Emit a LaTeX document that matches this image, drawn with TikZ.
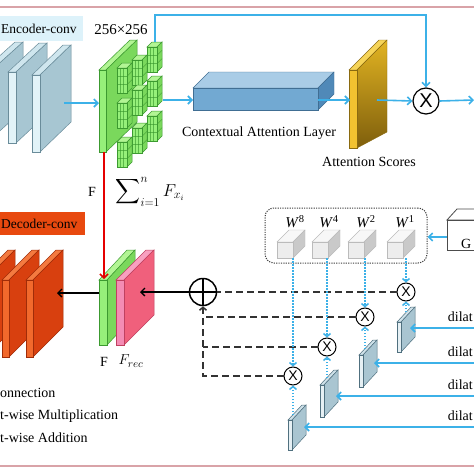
\documentclass[tikz,border=0pt]{standalone}
\usepackage{exscale}
\usepackage{fontspec}
\setmainfont{Liberation Serif}
\newfontfamily\sansf{Liberation Sans}
\usetikzlibrary{arrows.meta,calc}
\definecolor{encfront}{HTML}{E2F3F8}
\definecolor{encside}{HTML}{A7C6D2}
\definecolor{enctop}{HTML}{CFE6EE}
\definecolor{encline}{HTML}{6A8C9A}
\definecolor{encbg}{HTML}{DDF2FA}
\definecolor{gfront}{HTML}{96F07A}
\definecolor{gside}{HTML}{7AD85C}
\definecolor{gtop}{HTML}{B2F594}
\definecolor{gdark}{HTML}{3C9A30}
\definecolor{goldfront}{HTML}{F2C230}
\definecolor{goldtop}{HTML}{F6D458}
\definecolor{goldA}{HTML}{E2B422}
\definecolor{goldB}{HTML}{7E5E0C}
\definecolor{goldline}{HTML}{8A6A10}
\definecolor{ctxfront}{HTML}{72A9D2}
\definecolor{ctxtop}{HTML}{A9CCE6}
\definecolor{ctxside}{HTML}{5089B8}
\definecolor{decfront}{HTML}{F2692C}
\definecolor{decside}{HTML}{D8400F}
\definecolor{dectop}{HTML}{F47A40}
\definecolor{decline}{HTML}{A02C08}
\definecolor{decbg}{HTML}{E8490F}
\definecolor{pfront}{HTML}{F48CB4}
\definecolor{pside}{HTML}{F0607C}
\definecolor{ptop}{HTML}{F8A0C0}
\definecolor{pdark}{HTML}{C04060}
\definecolor{dilfront}{HTML}{E6F0F4}
\definecolor{dilside}{HTML}{A9C5D1}
\definecolor{diltop}{HTML}{D0E2EA}
\definecolor{dilline}{HTML}{50707F}
\definecolor{wfront}{HTML}{EDEDED}
\definecolor{wside}{HTML}{C9C9C9}
\definecolor{wtop}{HTML}{F7F7F7}
\definecolor{wline}{HTML}{BBBBBB}
\definecolor{skyb}{HTML}{3CB1E8}
\definecolor{rulepink}{HTML}{D9A3A8}

% #1 x, #2 y (front top-left), #3 front width, #4 height, #5 depth x, #6 depth y, #7 front, #8 side, #9 top
\newcommand{\slab}[9]{%
  \filldraw[fill=#9,slabline] (#1,#2) -- ++(#5,-#6) -- ++(#3,0) -- ++(-#5,#6) -- cycle;
  \filldraw[fill=#8,slabline] (#1+#3,#2) -- ++(#5,-#6) -- ++(0,#4) -- ++(-#5,#6) -- cycle;
  \filldraw[fill=#7,slabline] (#1,#2) rectangle ++(#3,#4);
}
\newcommand{\gcube}[2]{%
  \slab{#1}{#2}{10}{25}{5}{5}{gfront}{gside}{gtop}
  \draw[draw=gdark,line width=.4pt] (#1+3.33,#2) -- ++(0,25) (#1+6.67,#2) -- ++(0,25)
     (#1,#2+8.33) -- ++(10,0) (#1,#2+16.67) -- ++(10,0)
     (#1+10,#2+8.33) -- ++(5,-5) (#1+10,#2+16.67) -- ++(5,-5);
}

\begin{document}
\begin{tikzpicture}[x=1pt,y=-1pt,
  slabline/.style={draw=encline,line width=.5pt},
  barrow/.style={draw=skyb,line width=1.6pt,-{Straight Barb[length=4pt,width=8pt]}},
  bdot/.style={draw=skyb,line width=1.5pt,dash pattern=on 1.5pt off 1.5pt,-{Straight Barb[length=3pt,width=7pt]}},
  karrow/.style={draw=black,line width=1.3pt,-{Straight Barb[length=4pt,width=8pt]}},
  dline/.style={draw=black!80,line width=1.5pt,dash pattern=on 7pt off 4pt},
  lbl/.style={font=\fontsize{14}{16}\selectfont,inner sep=0pt},
  xcirc/.style={circle,draw,line width=1pt,fill=white,minimum size=18pt,inner sep=0pt,font=\sansf\fontsize{14}{14}\selectfont},
  rule/.style={draw=rulepink,line width=1.2pt},
]
\useasboundingbox (0,0) rectangle (474,474);
\fill[white] (0,0) rectangle (474,474);

% frame rules
\draw[rule] (0,7) -- (474,7);
\draw[rule] (0,466) -- (474,466);

% ---------- encoder ----------
\fill[encbg] (0,16) rectangle (83,41);
\node[lbl,anchor=west,font=\fontsize{13.5}{16}\selectfont] (enclab) at (1,28.5) {Encoder-conv};
\slab{-16}{70}{8}{68}{31}{28}{encfront}{encside}{enctop}
\slab{8}{72}{8}{71}{31}{29}{encfront}{encside}{enctop}
\slab{32}{75}{8}{77}{31}{30}{encfront}{encside}{enctop}
\coordinate (encout) at (64,103);

\node[lbl,font=\fontsize{15}{16}\selectfont] (size) at (121,30) {256×256};

% ---------- feature block with patches ----------
\begin{scope}[slabline/.style={draw=gdark,line width=.5pt}]
\slab{99}{70}{7}{82}{31}{30}{gfront}{gside}{gtop}
\gcube{147}{47}
\gcube{147}{81}
\gcube{147}{116}
\gcube{132}{60}
\gcube{132}{90}
\gcube{132}{128}
\gcube{117}{68}
\gcube{117}{103}
\gcube{117}{142}
\end{scope}
\coordinate (featin) at (99,103);
\coordinate (featout) at (163,100);
\coordinate (patchtop) at (155,42);
\coordinate (featbot) at (104,152);
\coordinate (topy) at (0,15);

% ---------- contextual attention layer ----------
\begin{scope}[slabline/.style={draw=ctxside!80!black,line width=.4pt}]
\filldraw[fill=ctxtop,slabline] (193,88) -- (209,72) -- (334,72) -- (318,88) -- cycle;
\filldraw[fill=ctxside,slabline] (318,88) -- (334,72) -- (334,94) -- (318,110) -- cycle;
\filldraw[fill=ctxfront,slabline] (193,88) rectangle (318,110);
\end{scope}
\coordinate (ctxin) at (193,100);
\coordinate (ctxout) at (318,100);
\node[lbl] (ctxlab) at (259,133) {Contextual Attention Layer};

% ---------- attention scores ----------
\filldraw[fill=goldtop,draw=goldline,line width=.4pt] (349,70) -- (379,40) -- (387,40) -- (357,70) -- cycle;
\shade[top color=goldA,bottom color=goldB] (357,70) -- (387,40) -- (387,132) -- (357,148) -- cycle;
\draw[draw=goldline,line width=.4pt] (357,70) -- (387,40) -- (387,132) -- (357,148) -- cycle;
\filldraw[fill=goldfront,draw=goldline,line width=.4pt] (349,70) rectangle (357,148);
\coordinate (attin) at (350,100);
\coordinate (attout) at (377,100);
\node[lbl] (attlab) at (369,162) {Attention Scores};

\node[circle,draw,line width=1.2pt,fill=white,minimum size=26pt,inner sep=0pt,font=\sansf\fontsize{20}{20}\selectfont] (mult) at (426,101) {X};
\coordinate (outR) at (474,100);

\draw[barrow] (encout) -- (featin);
\draw[barrow] (featout) -- (ctxin);
\draw[barrow] (ctxout) -- (attin);
\draw[barrow] (attout) -- (mult.west);
\draw[barrow] (mult.east) -- (outR);
\draw[barrow] (patchtop) -- (patchtop |- topy) -- (mult.north |- topy) -- (mult.north);

% ---------- labels F / sum ----------
\node[lbl] (flab1) at (92,192) {F};
\node[font=\fontsize{17}{19}\selectfont,inner sep=0pt] (sumlab) at (150,192) {$\displaystyle\sum\nolimits_{i=1}^{n}F_{x_i}$};

% ---------- decoder ----------
\fill[decbg] (0,212) rectangle (85,235);
\node[lbl,anchor=west,font=\fontsize{13.5}{16}\selectfont] (declab) at (1,223.5) {Decoder-conv};
\begin{scope}[slabline/.style={draw=decline,line width=.5pt}]
\slab{-22}{280}{7}{77}{30}{30}{decfront}{decside}{dectop}
\slab{2}{280}{7}{77}{30}{30}{decfront}{decside}{dectop}
\slab{26}{280}{7}{77}{30}{30}{decfront}{decside}{dectop}
\end{scope}
\coordinate (decin) at (57,293);

% ---------- F and F_rec ----------
\begin{scope}[slabline/.style={draw=gdark,line width=.5pt}]
\slab{99}{280}{8}{65}{28}{30}{gfront}{gside}{gtop}
\end{scope}
\begin{scope}[slabline/.style={draw=pdark,line width=.5pt}]
\slab{116}{280}{8}{65}{30}{30}{pfront}{pside}{ptop}
\end{scope}
\coordinate (ftop) at (104,279);
\coordinate (fout) at (99,293);
\coordinate (frecin) at (140,292);
\node[lbl] (flab2) at (104,362) {F};
\node[lbl,font=\fontsize{15}{16}\selectfont] (freclab) at (131,361) {$F_{rec}$};

\draw[draw=red!90!black,line width=1.5pt,-{Straight Barb[length=4pt,width=8pt]}] (featbot) -- (ftop);
\draw[karrow] (fout) -- (decin);

% ---------- addition ----------
\node[circle,draw,line width=1.5pt,fill=white,minimum size=27pt,inner sep=0pt] (oplus) at (203,292) {};
\draw[line width=1.5pt] (oplus.north) -- (oplus.south) (oplus.west) -- (oplus.east);
\draw[karrow] (oplus.west) -- (frecin);

% ---------- weights box ----------
\node[draw=black!75,line width=1pt,dash pattern=on 1.2pt off 1.2pt,rounded corners=9pt,minimum width=162pt,minimum height=55pt,inner sep=0pt] (wbox) at (346,235.5) {};
\begin{scope}[slabline/.style={draw=wline,line width=.4pt}]
\slab{277}{242}{16}{16}{12}{12}{wfront}{wside}{wtop}
\slab{312}{242}{16}{16}{12}{12}{wfront}{wside}{wtop}
\slab{348}{242}{16}{16}{12}{12}{wfront}{wside}{wtop}
\slab{387}{242}{16}{16}{12}{12}{wfront}{wside}{wtop}
\end{scope}
\node[font=\fontsize{15}{16}\selectfont,inner sep=0pt] (w8) at (295,222) {\textit{W}\textsuperscript{8}};
\node[font=\fontsize{15}{16}\selectfont,inner sep=0pt] (w4) at (329,222) {\textit{W}\textsuperscript{4}};
\node[font=\fontsize{15}{16}\selectfont,inner sep=0pt] (w2) at (366,222) {\textit{W}\textsuperscript{2}};
\node[font=\fontsize{15}{16}\selectfont,inner sep=0pt] (w1) at (405,222) {\textit{W}\textsuperscript{1}};
\coordinate (w8b) at (293,258);
\coordinate (w4b) at (327,258);
\coordinate (w2b) at (365,258);
\coordinate (w1b) at (406,258);

% G box
\begin{scope}[slabline/.style={draw=black!70,line width=.8pt}]
\slab{447}{220}{40}{30}{10}{11}{white}{white}{white}
\end{scope}
\node[lbl,anchor=base west] (glab) at (461,248) {G};
\coordinate (gout) at (447,237);
\draw[barrow] (gout) -- (wbox.east |- gout);

% ---------- dilated branches ----------
\begin{scope}[slabline/.style={draw=dilline,line width=.5pt}]
\slab{397}{322}{4}{30}{14}{15}{dilfront}{dilside}{diltop}
\slab{359}{355}{4}{32}{14}{15}{dilfront}{dilside}{diltop}
\slab{320}{385}{4}{32}{14}{15}{dilfront}{dilside}{diltop}
\slab{288}{420}{4}{30}{14}{15}{dilfront}{dilside}{diltop}
\end{scope}
\coordinate (dA) at (406,312);
\coordinate (dB) at (365,349);
\coordinate (dC) at (327,378);
\coordinate (dD) at (293,415);
\coordinate (tipA) at (410,328);
\coordinate (tipB) at (374,363);
\coordinate (tipC) at (336,396);
\coordinate (tipD) at (304,427);
\coordinate (srcA) at (474,328);
\coordinate (srcB) at (474,363);
\coordinate (srcC) at (474,396);
\coordinate (srcD) at (474,427);
\draw[barrow] (srcA) -- (tipA);
\draw[barrow] (srcB) -- (tipB);
\draw[barrow] (srcC) -- (tipC);
\draw[barrow] (srcD) -- (tipD);
\node[lbl,anchor=east] (dl1) at (473,317) {dilat};
\node[lbl,anchor=east] (dl2) at (473,352) {dilat};
\node[lbl,anchor=east] (dl3) at (473,385) {dilat};
\node[lbl,anchor=east] (dl4) at (473,416) {dilat};

\node[xcirc] (x1) at (406,292) {X};
\node[xcirc] (x2) at (365,317) {X};
\node[xcirc] (x3) at (327,347) {X};
\node[xcirc] (x4) at (293,376) {X};

\draw[dline] (x1.west) -- (oplus.east);
\draw[dline] (x2.west) -- (x2.west -| oplus.south);
\draw[dline] (x3.west) -- (x3.west -| oplus.south);
\draw[dline,-{Straight Barb[length=3pt,width=7pt]}] (x4.west) -| (oplus.south);

\draw[bdot] (w1b) -- (x1.north);
\draw[bdot] (w2b) -- (x2.north);
\draw[bdot] (w4b) -- (x3.north);
\draw[bdot] (w8b) -- (x4.north);
\draw[bdot] (dA) -- (x1.south);
\draw[bdot] (dB) -- (x2.south);
\draw[bdot] (dC) -- (x3.south);
\draw[bdot] (dD) -- (x4.south);

% ---------- legend ----------
\node[lbl,anchor=west] (leg1) at (0,393) {onnection};
\node[lbl,anchor=west] (leg2) at (0,416) {t-wise Multiplication};
\node[lbl,anchor=west] (leg3) at (0,438) {t-wise Addition};
\end{tikzpicture}
\end{document}
